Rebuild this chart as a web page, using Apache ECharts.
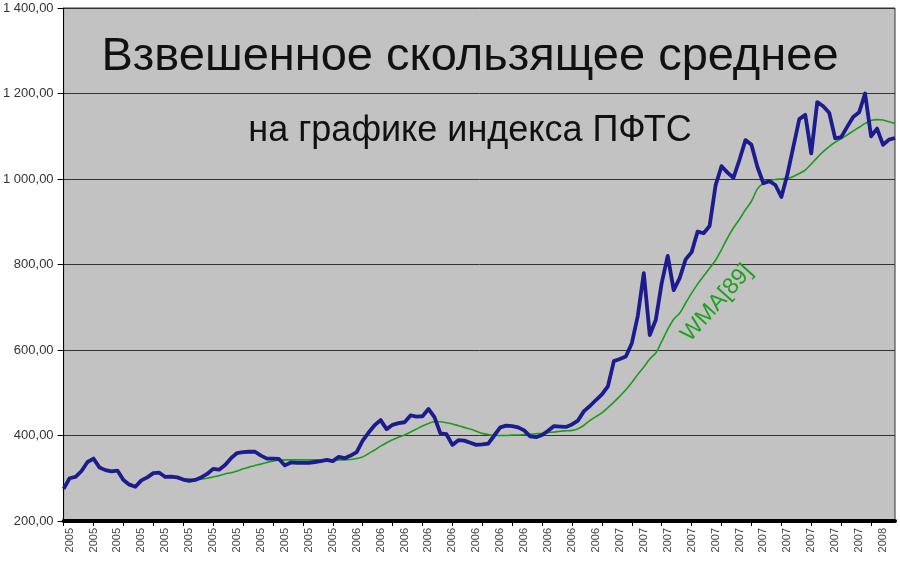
<!DOCTYPE html>
<html>
<head>
<meta charset="utf-8">
<script src="https://cdn.jsdelivr.net/npm/echarts@6/dist/echarts.min.js"></script>
<style>
html,body{margin:0;padding:0;background:#fff;}
#chart{width:900px;height:564px;}
</style>
</head>
<body>
<div id="chart"></div>
<script>
// Tick labels along the x axis (one every 4 points)
const tickLabels = [
  '2005','2005','2005','2005','2005','2005','2005','2005','2005','2005','2005','2005',
  '2006','2006','2006','2006','2006','2006','2006','2006','2006','2006','2006',
  '2007','2007','2007','2007','2007','2007','2007','2007','2007','2007','2007',
  '2008'
];

// PFTS index (blue line)
const pftsValues = [
  275,300,303,317,338,346,325,319,316,318,296,285,280,295,302,312,313,303,304,302,
  297,294,296,302,310,322,320,331,347,359,361,362,362,353,346,346,345,330,337,336,
  336,336,338,340,343,340,350,347,353,361,388,407,424,436,415,425,429,431,447,444,
  445,462,443,405,403,378,389,388,383,378,379,381,400,419,423,422,419,412,398,396,
  401,411,422,421,420,426,435,457,469,483,496,515,574,579,585,616,680,780,635,670,
  757,820,740,768,812,829,877,873,890,985,1030,1015,1003,1045,1091,1080,1028,990,995,986,
  958,1010,1075,1140,1150,1060,1180,1170,1155,1095,1098,1122,1145,1156,1200,1100,1118,1080,1092,1096
];

// Weighted moving average WMA[89] (green line)
const wmaValues = [
  null,null,null,null,null,null,null,null,null,null,null,null,null,null,null,null,null,303,302,301,
  299,298,297,298,300,303,306,310,313,317,322,326,330,333,337,340,342,343,343,343,
  343,343,343,343,343,343,343,343,344,346,350,358,366,375,383,390,396,401,408,415,
  422,428,432,432,430,427,423,419,415,410,405,402,400,400,400,401,401,402,403,404,
  405,407,408,410,411,412,416,424,435,444,453,465,478,492,507,524,543,560,579,593,
  620,648,672,686,710,733,754,773,791,810,835,862,886,906,928,948,977,990,996,999,
  1000,1001,1006,1013,1021,1035,1050,1064,1076,1086,1094,1103,1112,1121,1130,1137,1139,1138,1134,1130
];

const categories = pftsValues.map((v, i) => String(i));

const titleText = 'Взвешенное скользящее среднее';
const subtitleText = 'на графике индекса ПФТС';
const wmaLabel = 'WMA[89]';

const chart = echarts.init(document.getElementById('chart'), null, {renderer: 'canvas'});

function fmtY(v) {
  const s = String(Math.round(v));
  const withSpace = s.length > 3 ? s.slice(0, s.length - 3) + ' ' + s.slice(s.length - 3) : s;
  return withSpace + ',00';
}

chart.setOption({
  backgroundColor: '#ffffff',
  animation: false,
  grid: {
    left: 63, right: 5, top: 8, bottom: 43,
    show: true,
    backgroundColor: '#c2c2c2',
    borderColor: '#333333',
    borderWidth: 1
  },
  xAxis: {
    type: 'category',
    data: categories,
    boundaryGap: false,
    axisLine: {show: true, lineStyle: {color: '#000', width: 4}},
    axisTick: {
      show: true, length: 5, inside: false,
      interval: function (index) { return index % 5 === 0; },
      lineStyle: {color: '#000', width: 1}
    },
    axisLabel: {
      interval: function (index) { return index % 4 === 1; },
      formatter: function (value, index) {
        const k = (index - 1) / 4;
        return (index % 4 === 1 && tickLabels[k]) ? tickLabels[k] : '';
      },
      rotate: 90,
      margin: 7,
      color: '#444',
      fontSize: 11,
      fontFamily: 'Liberation Sans, Arial, sans-serif'
    },
    splitLine: {show: false}
  },
  yAxis: {
    type: 'value',
    min: 200, max: 1400, interval: 200,
    axisLine: {show: true, lineStyle: {color: '#000', width: 1}},
    axisTick: {show: true, length: 6, lineStyle: {color: '#000'}},
    axisLabel: {
      formatter: fmtY,
      color: '#333',
      fontSize: 13,
      margin: 10,
      fontFamily: 'Liberation Sans, Arial, sans-serif'
    },
    splitLine: {show: true, lineStyle: {color: '#333333', width: 1}}
  },
  series: [
    {
      name: 'WMA[89]',
      type: 'line',
      data: wmaValues,
      showSymbol: false,
      smooth: 0.3,
      lineStyle: {color: '#1f9a1f', width: 1.6},
      z: 3
    },
    {
      name: 'ПФТС',
      type: 'line',
      data: pftsValues,
      showSymbol: false,
      lineStyle: {color: '#1c1c8e', width: 3.8, join: 'round'},
      z: 4
    }
  ],
  graphic: [
    {
      type: 'text',
      x: 470, y: 57,
      style: {
        text: titleText,
        fill: '#111',
        font: '47px "Liberation Sans", Arial, sans-serif',
        align: 'center',
        verticalAlign: 'middle'
      },
      z: 10
    },
    {
      type: 'text',
      x: 470, y: 131,
      style: {
        text: subtitleText,
        fill: '#111',
        font: '36px "Liberation Sans", Arial, sans-serif',
        align: 'center',
        verticalAlign: 'middle'
      },
      z: 10
    },
    {
      type: 'text',
      x: 717, y: 303,
      rotation: 48 * Math.PI / 180,
      style: {
        text: wmaLabel,
        fill: '#1fa21f',
        font: '23px "Liberation Sans", Arial, sans-serif',
        align: 'center',
        verticalAlign: 'middle'
      },
      z: 10
    }
  ]
});
</script>
</body>
</html>
